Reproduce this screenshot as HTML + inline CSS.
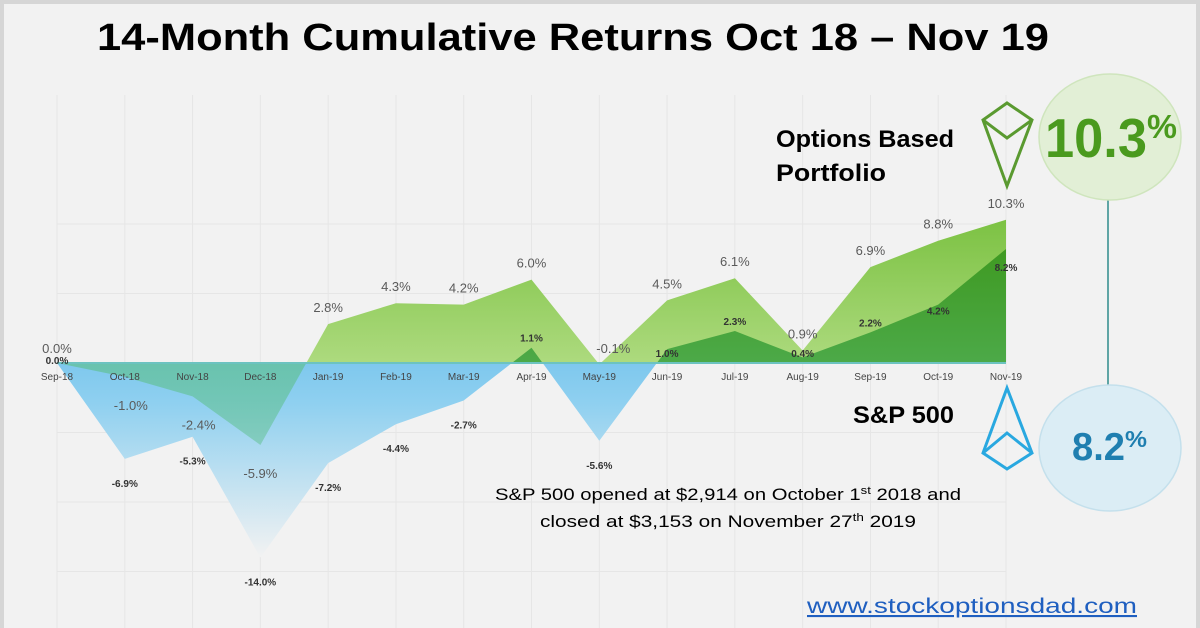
<!DOCTYPE html>
<html><head><meta charset="utf-8"><style>
html,body{margin:0;padding:0;background:#f2f2f2;}
svg{display:block;font-family:"Liberation Sans",sans-serif;}
</style></head><body>
<svg id="chart" width="1200" height="628" viewBox="0 0 1200 628">
<defs>
 <linearGradient id="gPos" x1="0" y1="0" x2="0" y2="1">
  <stop offset="0" stop-color="#7cc243"/><stop offset="1" stop-color="#c9e8a0"/></linearGradient>
 <linearGradient id="gTeal" x1="0" y1="0" x2="0" y2="1">
  <stop offset="0" stop-color="#5fc08e" stop-opacity="0.95"/><stop offset="1" stop-color="#5fc08e" stop-opacity="0.5"/></linearGradient>
 <linearGradient id="gSpPos" x1="0" y1="0" x2="0" y2="1">
  <stop offset="0" stop-color="#3f9a22"/><stop offset="1" stop-color="#63c48a"/></linearGradient>
 <linearGradient id="gBlue" x1="0" y1="0" x2="0" y2="1">
  <stop offset="0" stop-color="#4db0e6"/><stop offset="0.5" stop-color="#8fd0f0"/><stop offset="1" stop-color="#f2f2f2"/></linearGradient>
 <clipPath id="clipPos"><rect x="0" y="0" width="1200" height="363"/></clipPath>
 <clipPath id="clipNeg"><rect x="0" y="363" width="1200" height="300"/></clipPath>
</defs>
<rect x="0" y="0" width="1200" height="628" fill="#f2f2f2"/>
<rect x="0" y="0" width="1200" height="4" fill="#d6d6d6"/>
<rect x="0" y="0" width="4" height="628" fill="#d6d6d6"/>
<rect x="1196" y="0" width="4" height="628" fill="#d6d6d6"/>
<text x="97" y="50" font-size="38" font-weight="bold" textLength="952" lengthAdjust="spacingAndGlyphs" fill="#000">14-Month Cumulative Returns Oct 18 – Nov 19</text>
<g id="grid"></g>
<g id="areas"></g>
<g id="labels"></g>

<text x="776" y="147" font-size="24" font-weight="bold" textLength="178" lengthAdjust="spacingAndGlyphs">Options Based</text>
<text x="776" y="181" font-size="24" font-weight="bold" textLength="110" lengthAdjust="spacingAndGlyphs">Portfolio</text>
<text x="853" y="423" font-size="24" font-weight="bold" textLength="101" lengthAdjust="spacingAndGlyphs">S&amp;P 500</text>

<g fill="none" stroke="#5a9a30" stroke-width="3">
 <path d="M983 120 L1007 103 L1032 120 L1007 186 Z"/><path d="M983 120 L1007 138 L1032 120"/>
</g>
<g fill="none" stroke="#29a8e0" stroke-width="3">
 <path d="M1007 388 L1032 453 L1007 469 L983 453 Z"/><path d="M983 453 L1007 433 L1032 453"/>
</g>
<line x1="1108" y1="200" x2="1108" y2="385" stroke="#2e8b8b" stroke-width="1.5"/>
<ellipse cx="1110" cy="137" rx="71" ry="63" fill="#e2efd6" stroke="#cfe5bd" stroke-width="1.5"/>
<text x="1045" y="157" font-size="55" font-weight="bold" fill="#4a9a1e" textLength="102" lengthAdjust="spacingAndGlyphs">10.3</text>
<text x="1147" y="138" font-size="33" font-weight="bold" fill="#4a9a1e" textLength="30" lengthAdjust="spacingAndGlyphs">%</text>
<ellipse cx="1110" cy="448" rx="71" ry="63" fill="#dbedf5" stroke="#c4e0ec" stroke-width="1.5"/>
<text x="1072" y="460" font-size="39" font-weight="bold" fill="#1f7fb0" textLength="53" lengthAdjust="spacingAndGlyphs">8.2</text>
<text x="1125" y="447" font-size="23" font-weight="bold" fill="#1f7fb0" textLength="22" lengthAdjust="spacingAndGlyphs">%</text>

<text x="728" y="500" font-size="17" text-anchor="middle" textLength="466" lengthAdjust="spacingAndGlyphs">S&amp;P 500 opened at $2,914 on October 1<tspan font-size="11" dy="-6">st</tspan><tspan dy="6"> 2018 and</tspan></text>
<text x="728" y="527" font-size="17" text-anchor="middle" textLength="376" lengthAdjust="spacingAndGlyphs">closed at $3,153 on November 27<tspan font-size="11" dy="-6">th</tspan><tspan dy="6"> 2019</tspan></text>
<text x="972" y="613" font-size="21" fill="#1f5fc0" text-decoration="underline" text-anchor="middle" textLength="330" lengthAdjust="spacingAndGlyphs">www.stockoptionsdad.com</text>
</svg>
<script>
const categories = ["Sep-18","Oct-18","Nov-18","Dec-18","Jan-19","Feb-19","Mar-19","Apr-19","May-19","Jun-19","Jul-19","Aug-19","Sep-19","Oct-19","Nov-19"];
const optionsValues = [0.0,-1.0,-2.4,-5.9,2.8,4.3,4.2,6.0,-0.1,4.5,6.1,0.9,6.9,8.8,10.3];
const spValues = [0.0,-6.9,-5.3,-14.0,-7.2,-4.4,-2.7,1.1,-5.6,1.0,2.3,0.4,2.2,4.2,8.2];
const gridTicks = [10,5,0,-5,-10,-15];

const NS = "http://www.w3.org/2000/svg";
const X0 = 57, STEP = (1006-57)/14, Y0 = 363, PPU = 13.9;
const xs = i => X0 + i*STEP;
const ys = v => Y0 - v*PPU;
function mk(tag, attrs, parent){ const e=document.createElementNS(NS,tag); for(const k in attrs) e.setAttribute(k,attrs[k]); parent.appendChild(e); return e; }
const grid=document.getElementById('grid'), areas=document.getElementById('areas'), labels=document.getElementById('labels');

categories.forEach((c,i)=>{
  const l=mk('line',{x1:xs(i),x2:xs(i),y1:95,y2:628,stroke:'#e6e6e6','stroke-width':1},grid);
  
  
});
gridTicks.forEach(t=>{
  const l=mk('line',{x1:57,x2:1006,y1:ys(t),y2:ys(t),stroke:'#e6e6e6','stroke-width':1},grid);
  
  
});

function areaPath(vals){
  let d='M'+xs(0)+' '+Y0;
  vals.forEach((v,i)=>{ d+=' L'+xs(i).toFixed(1)+' '+ys(v).toFixed(1); });
  return d+' L'+xs(vals.length-1)+' '+Y0+' Z';
}
const spNeg=mk('path',{d:areaPath(spValues),fill:'url(#gBlue)','clip-path':'url(#clipNeg)'},areas);


const opPos=mk('path',{d:areaPath(optionsValues),fill:'url(#gPos)','clip-path':'url(#clipPos)'},areas);


const opNeg=mk('path',{d:areaPath(optionsValues),fill:'url(#gTeal)','clip-path':'url(#clipNeg)'},areas);


const spPos=mk('path',{d:areaPath(spValues),fill:'url(#gSpPos)','clip-path':'url(#clipPos)'},areas);


const axis=mk('line',{x1:57,x2:1006,y1:Y0,y2:Y0,stroke:'#6cc3c0','stroke-width':2},areas);



categories.forEach((c,i)=>{
  const t=mk('text',{x:xs(i),y:Y0+17,'font-size':10,'text-anchor':'middle',fill:'#444'},labels);
  t.textContent=c;
  
  
});
optionsValues.forEach((v,i)=>{
  let yy = v>=0 ? ys(v)-12 : ys(v)+33;
  if(i===0) yy=Y0-10;
  if(v<0 && v>-0.5) { yy = Y0-10; }
  const dx = (v<0 && v>-0.5) ? 14 : (i===1||i===2?6:0);
  const t=mk('text',{x:xs(i)+dx,y:yy,'font-size':13,'text-anchor':'middle',fill:'#5a5a5a'},labels);
  t.textContent=v.toFixed(1)+'%';
  
  
});
spValues.forEach((v,i)=>{
  let yy = v>=0 ? ys(v)-8 : ys(v)+28;
  if(i===0) yy=Y0+1;
  if(v>=0 && i>0) yy = ys(v)+ (i===14? 22 : i===13? 10 : -6);
  if(v>=0 && v<1.05 && i>0) yy = Y0-6;
  const t=mk('text',{x:xs(i),y:yy,'font-size':10,'font-weight':'bold','text-anchor':'middle',fill:'#333'},labels);
  t.textContent=v.toFixed(1)+'%';
  
  
});
</script>
</body></html>
